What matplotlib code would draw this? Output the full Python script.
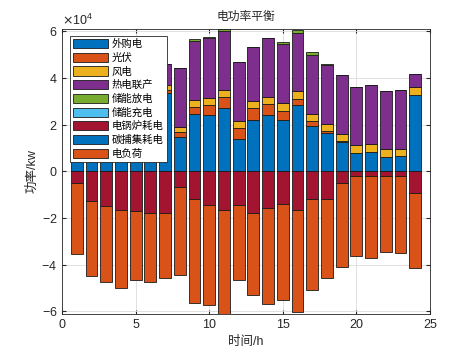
import numpy as np
import matplotlib
matplotlib.use("Agg")
import matplotlib.pyplot as plt
from matplotlib.ticker import ScalarFormatter

plt.rcParams['font.family'] = ['Liberation Sans', 'Noto Sans CJK SC']
plt.rcParams['axes.unicode_minus'] = False

hours = np.arange(1, 25)

# 正向功率 (kW)
grid_buy = [27000, 31000, 33000, 34000, 32000, 33000, 33800, 14900, 24800, 24300, 27100, 13800,
            22200, 24300, 22200, 28300, 19400, 16300, 12700, 7900, 8400, 6000, 6500, 32800]
pv = [0, 0, 0, 0, 0, 0, 1100, 2000, 2800, 4300, 5000, 4900,
      5200, 4500, 3800, 2600, 2100, 1000, 200, 0, 0, 0, 0, 0]
wind = [3500, 3600, 3600, 3700, 3600, 3500, 2100, 2200, 3100, 2800, 2800, 3100,
        3000, 3300, 3200, 3600, 3300, 3200, 3300, 3400, 3500, 3600, 3300, 3500]
chp = [4700, 10100, 10900, 12100, 11100, 11000, 8900, 25300, 25400, 25800, 25400, 25000,
       22800, 25000, 25400, 25000, 25100, 25200, 25000, 25000, 25100, 25000, 25100, 5300]
es_dis = [0, 0, 0, 0, 0, 0, 0, 0, 600, 500, 900, 0,
          0, 300, 700, 1000, 1200, 200, 0, 0, 0, 0, 0, 0]

# 负向功率 (kW)
es_chg = [0] * 24
e_boiler = [4800, 12800, 14900, 16600, 17000, 17900, 17900, 6600, 11900, 14500, 16500, 14200,
            18000, 15700, 14100, 16500, 11900, 11900, 4900, 2000, 2000, 2000, 2000, 9200]
ccs = [0] * 24
e_load = [30400, 31900, 32600, 33200, 29700, 29600, 27800, 37700, 44600, 42700, 44500, 32500,
          34800, 41300, 41000, 43700, 38700, 33700, 36200, 34200, 34900, 32700, 33000, 32300]

labels = ['外购电', '光伏', '风电', '热电联产', '储能放电', '储能充电', '电锅炉耗电', '碳捕集耗电', '电负荷']
colors = ['#0072BD', '#D95319', '#EDB120', '#7E2F8E', '#77AC30', '#4DBEEE', '#A2142F', '#0072BD', '#D95319']

fig = plt.figure(figsize=(4.74, 3.55), dpi=100)
ax = fig.add_axes([0.131, 0.116, 0.776, 0.802])

pos_series = [grid_buy, pv, wind, chp, es_dis]
neg_series = [es_chg, e_boiler, ccs, e_load]

handles = []
bottom = np.zeros(24)
for i, s in enumerate(pos_series):
    s = np.array(s, dtype=float)
    h = ax.bar(hours, s, 0.8, bottom=bottom, color=colors[i], edgecolor='#1a1a1a', linewidth=0.6,
               label=labels[i], zorder=3)
    handles.append(h)
    bottom += s

bottom = np.zeros(24)
for j, s in enumerate(neg_series):
    s = -np.array(s, dtype=float)
    k = j + 5
    h = ax.bar(hours, s, 0.8, bottom=bottom, color=colors[k], edgecolor='#1a1a1a', linewidth=0.6,
               label=labels[k], zorder=3)
    handles.append(h)
    bottom += s

ax.set_xlim(0, 25)
ax.set_ylim(-61000, 61000)
ax.set_xticks([0, 5, 10, 15, 20, 25])
ax.set_yticks([-60000, -40000, -20000, 0, 20000, 40000, 60000])
fmt = ScalarFormatter(useMathText=True)
fmt.set_powerlimits((0, 0))
ax.yaxis.set_major_formatter(fmt)
ax.yaxis.get_offset_text().set_fontsize(9)
ax.yaxis.get_offset_text().set_color('#262626')

ax.tick_params(direction='in', labelsize=9, colors='#262626', length=3, top=True, right=True)
ax.grid(True, color='#dcdcdc', linewidth=0.6, zorder=0)
ax.set_axisbelow(True)
for sp in ax.spines.values():
    sp.set_color('#262626')
    sp.set_linewidth(0.6)

ax.set_title('电功率平衡', fontsize=8.5, color='#262626', pad=7)
ax.set_xlabel('时间/h', fontsize=9, color='#262626', labelpad=4)
ax.set_ylabel('功率/kw', fontsize=9, color='#262626', labelpad=2)

leg = ax.legend(handles=handles, loc='upper left', bbox_to_anchor=(0.022, 0.976), fontsize=7.5,
                frameon=True, fancybox=False, framealpha=1, edgecolor='#262626',
                handlelength=3.3, handleheight=1.0, labelspacing=0.33, borderpad=0.3,
                handletextpad=0.4, borderaxespad=0.0)
leg.get_frame().set_linewidth(0.6)
leg.set_zorder(5)

fig.savefig('out.png', dpi=100)
